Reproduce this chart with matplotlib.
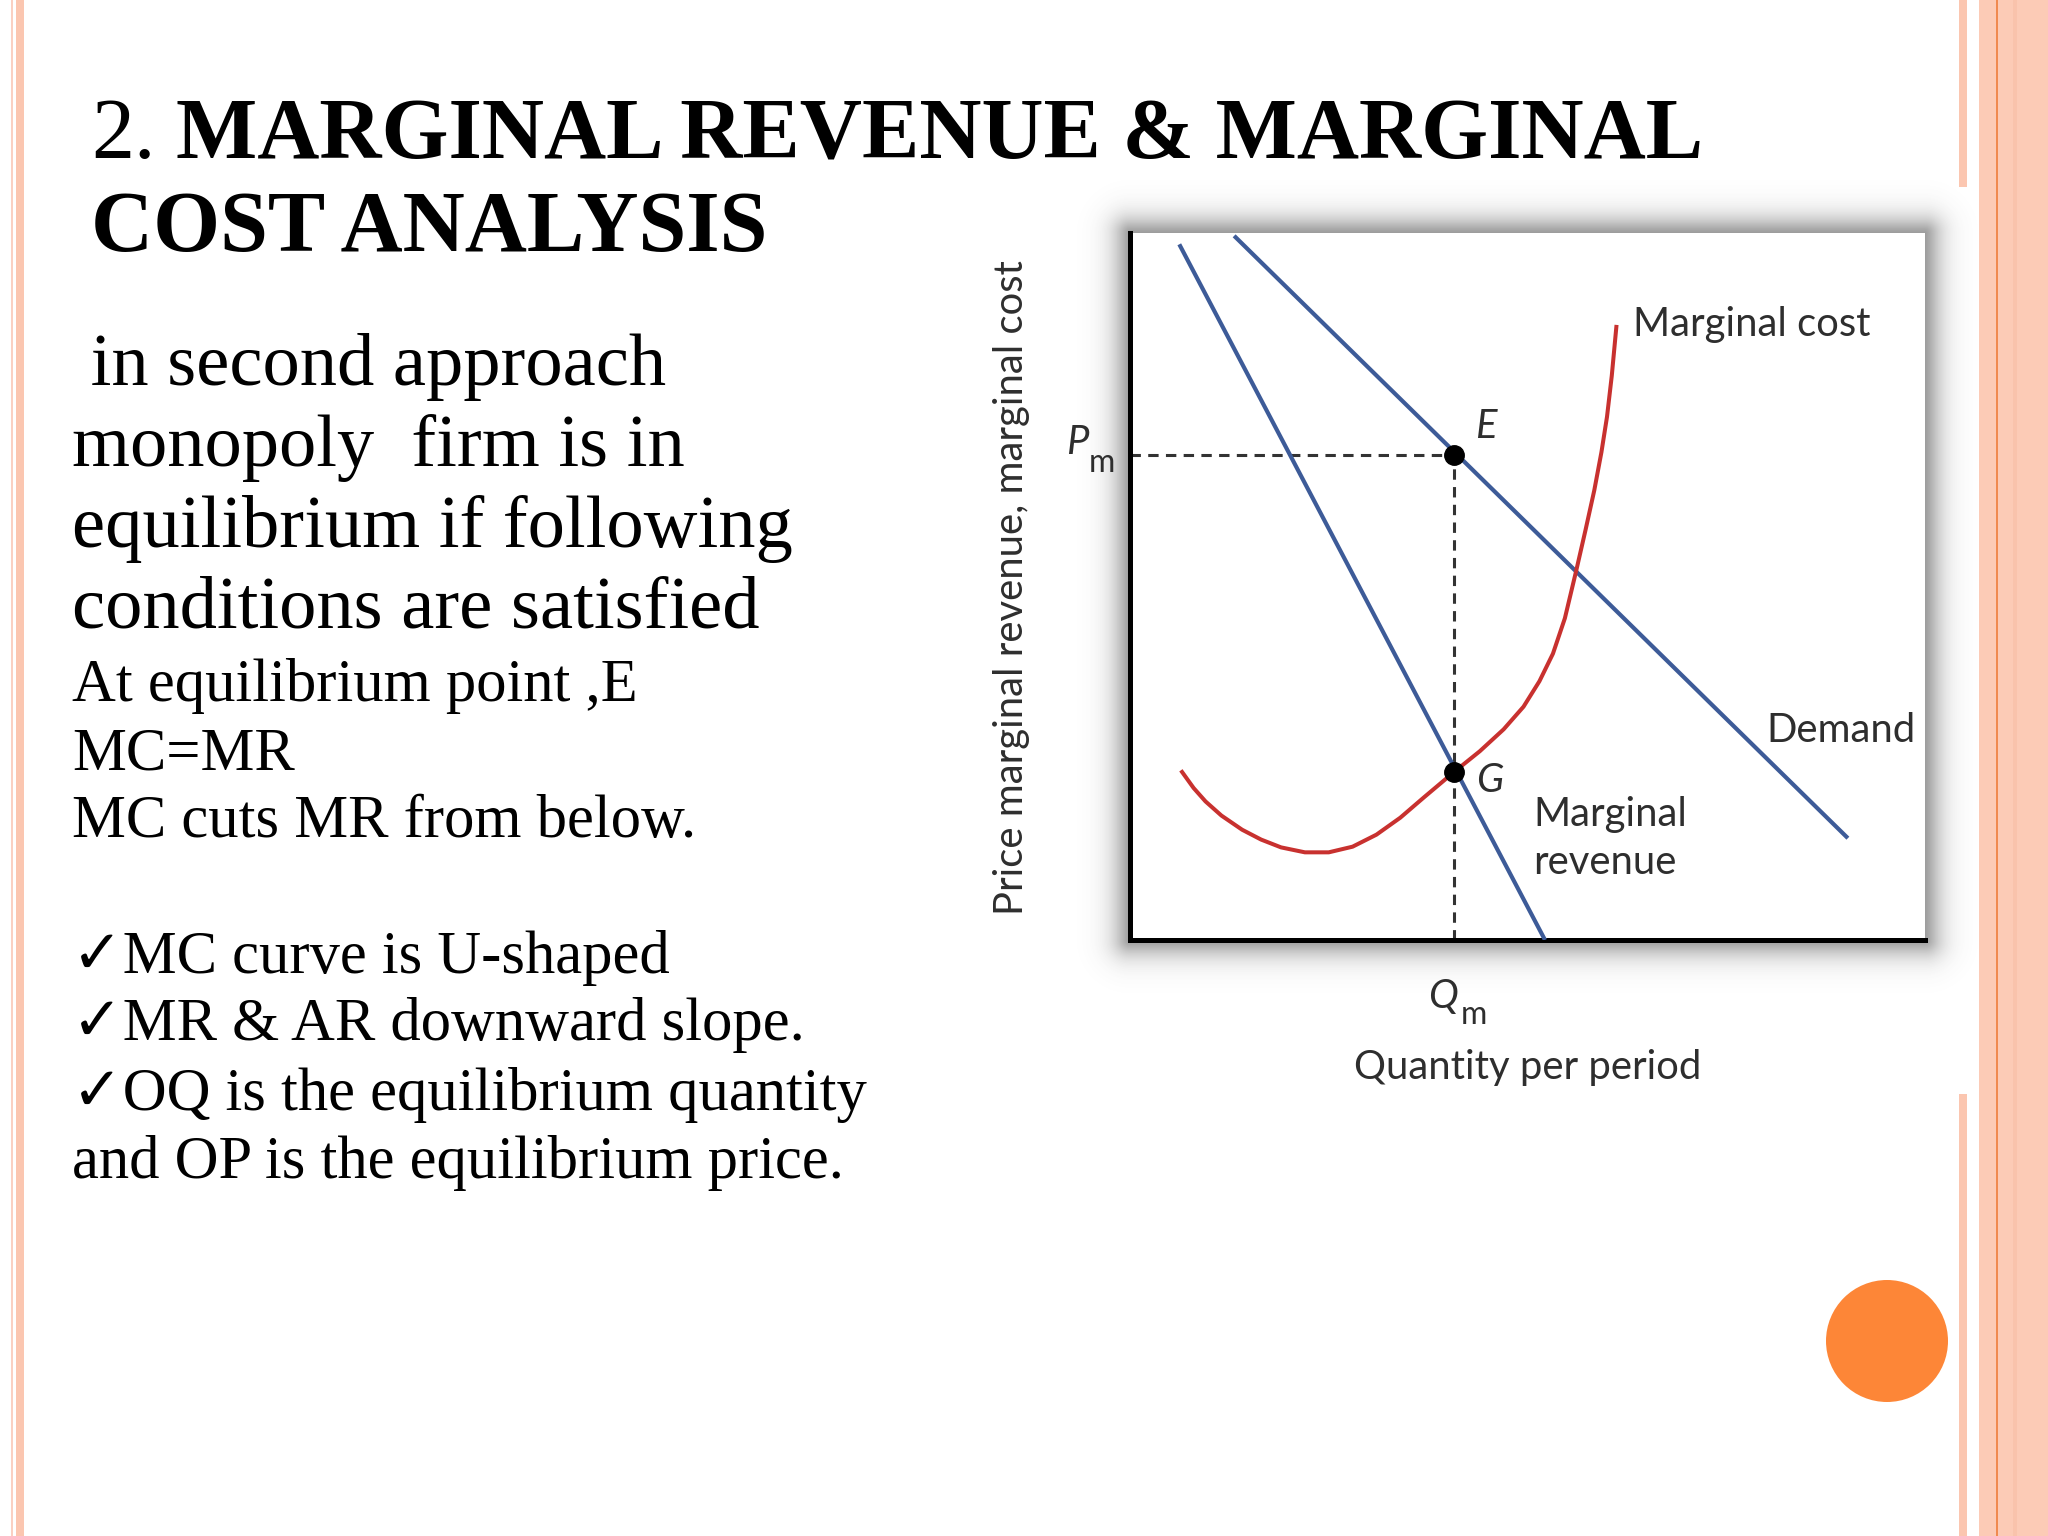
import numpy as np
import matplotlib
matplotlib.use("Agg")
import matplotlib.pyplot as plt
from matplotlib.patches import Rectangle, Circle

# ---------------- data (axis units 0..10) ----------------
demand_x = [1.31, 9.03]
demand_y = [9.96, 1.44]
mr_x = [0.62, 5.22]
mr_y = [9.84, 0.0]
mc_x = [0.64, 0.80, 0.95, 1.15, 1.41, 1.65, 1.90, 2.20, 2.50, 2.80, 3.10, 3.40, 3.70,
        4.08, 4.40, 4.70, 4.95, 5.15, 5.32, 5.47, 5.61, 5.73, 5.84, 5.93, 6.00, 6.06, 6.12]
mc_y = [2.40, 2.15, 1.96, 1.76, 1.56, 1.42, 1.31, 1.24, 1.24, 1.32, 1.49, 1.73, 2.02,
        2.38, 2.67, 2.98, 3.30, 3.66, 4.05, 4.55, 5.21, 5.80, 6.36, 6.90, 7.40, 7.98, 8.70]
eq_q = 4.08      # Qm
eq_p = 6.86      # Pm (point E on demand)
g_val = 2.38     # point G (MR = MC)

title_num = "2."
title_l1 = "MARGINAL REVENUE & MARGINAL"
title_l2 = "COST ANALYSIS"
big_lines = [" in second approach", "monopoly  firm is in",
             "equilibrium if following", "conditions are satisfied"]
small_lines = ["At equilibrium point ,E", "MC=MR", "MC cuts MR from below."]
check_lines = ["\u2713MC curve is U-shaped", "\u2713MR & AR downward slope.",
               "\u2713OQ is the equilibrium quantity", "and OP is the equilibrium price."]

# ---------------- figure ----------------
W, H = 2048, 1536
fig = plt.figure(figsize=(W / 100, H / 100), dpi=100)
fig.patch.set_facecolor("white")
bg = fig.add_axes([0, 0, 1, 1], zorder=0)
bg.set_xlim(0, W)
bg.set_ylim(H, 0)
bg.axis("off")
renderer = fig.canvas.get_renderer()

SERIF = ["Liberation Serif", "DejaVu Sans"]
SANS = ["Lato", "Open Sans", "DejaVu Sans"]
PINK = "#FBC6B0"

# decorative stripes
bg.add_patch(Rectangle((10.5, 0), 2.2, H, color="#FAD0C2", lw=0))
bg.add_patch(Rectangle((16, 0), 8, H, color=PINK, lw=0))
bg.add_patch(Rectangle((1959, 0), 8, 187, color=PINK, lw=0))
bg.add_patch(Rectangle((1959, 1094), 8, H - 1094, color=PINK, lw=0))
bg.add_patch(Rectangle((1979, 0), W - 1979, H, color="#FCCBB6", lw=0))
bg.add_patch(Rectangle((2013, 0), 4, H, color="#F9C3AC", lw=0))
bg.add_patch(Rectangle((1995.5, 0), 2, H, color="#F08A50", lw=0))
bg.add_patch(Circle((1887, 1341), 61, color="#FD8637", lw=0))


def fit_width(t, target, rotated=False):
    bb = t.get_window_extent(renderer)
    size = bb.height if rotated else bb.width
    return t.get_fontsize() * target / size


# ---------------- title ----------------
t_num = bg.text(91, 158, title_num, family=SERIF, fontsize=60, va="baseline", ha="left")
t1 = bg.text(176, 158, title_l1, family=SERIF, fontsize=60, weight="bold",
             va="baseline", ha="left")
fs_title = fit_width(t1, 1528)
t1.set_fontsize(fs_title)
t_num.set_fontsize(fs_title)
bg.text(91, 251, title_l2, family=SERIF, fontsize=fs_title, weight="bold",
        va="baseline", ha="left")

# ---------------- body text ----------------
big_base = [385, 466, 547, 628]
big_w = [670 - 72, 607, 709, 696]
ts = [bg.text(72, y, s, family=SERIF, fontsize=40, va="baseline", ha="left")
      for s, y in zip(big_lines, big_base)]
fs_big = float(np.median([fit_width(t, w) for t, w in zip(ts, big_w)]))
for t in ts:
    t.set_fontsize(fs_big)

small_base = [701, 769, 837, 973, 1040, 1110, 1178]
small_w = [581, 218, 624, 596, 722, 814, 799]
ts2 = [bg.text(72, y, s, family=SERIF, fontsize=40, va="baseline", ha="left")
       for s, y in zip(small_lines + check_lines, small_base)]
fs_small = float(np.median([fit_width(t, w) for t, w in zip(ts2, small_w)]))
for t in ts2:
    t.set_fontsize(fs_small)

# ---------------- chart frame shadow ----------------
L, R, T, B = 1130, 1925, 233, 940
pad = 60
xs = np.arange(L - pad, R + pad) + 0.5
ys = np.arange(T - pad, B + pad) + 0.5
X, Y = np.meshgrid(xs, ys)
dx = np.maximum(np.maximum(L - X, X - R), 0)
dy = np.maximum(np.maximum(T - Y, Y - B), 0)
d = np.hypot(dx, dy)
alpha = 0.55 * np.exp(-(d / 17.0) ** 1.4)
img = np.zeros(X.shape + (4,))
img[..., :3] = 0.3
img[..., 3] = alpha
bg.imshow(img, extent=(L - pad, R + pad, B + pad, T - pad), interpolation="bilinear",
          zorder=1, aspect="auto")
bg.set_xlim(0, W)
bg.set_ylim(H, 0)

# ---------------- chart axes ----------------
ax = fig.add_axes([L / W, (H - B) / H, (R - L) / W, (B - T) / H], zorder=2)
ax.set_xlim(0, 10)
ax.set_ylim(0, 10)
ax.set_facecolor("white")
for side in ["top", "right"]:
    ax.spines[side].set_visible(False)
for side in ["left", "bottom"]:
    ax.spines[side].set_linewidth(3.6)
    ax.spines[side].set_color("black")
    ax.spines[side].set_capstyle("projecting")
ax.set_xticks([])
ax.set_yticks([])

BLUE = "#3D5B98"
RED = "#C8312F"
ax.plot([0, eq_q], [eq_p, eq_p], color="#333333", lw=2.2, dashes=(3.4, 2.4),
        clip_on=False, zorder=2)
ax.plot([eq_q, eq_q], [0, eq_p], color="#333333", lw=2.2, dashes=(3.4, 2.4),
        clip_on=False, zorder=2)
ax.plot(demand_x, demand_y, color=BLUE, lw=3.0, solid_capstyle="butt", zorder=3)
ax.plot(mr_x, mr_y, color=BLUE, lw=3.0, solid_capstyle="butt", zorder=3)
ax.plot(mc_x, mc_y, color=RED, lw=2.9, solid_capstyle="butt", solid_joinstyle="round",
        zorder=3)
ax.plot([eq_q, eq_q], [eq_p, g_val], "o", color="black", ms=14, zorder=4)

TXT = "#2E2E2E"
lbl = ax.text(6.33, 8.71, "Marginal cost", family=SANS, fontsize=26, color=TXT,
              ha="left", va="center")
fs_lbl = fit_width(lbl, 237)
lbl.set_fontsize(fs_lbl)
ax.text(8.01, 2.96, "Demand", family=SANS, fontsize=fs_lbl, color=TXT, ha="left", va="center")
ax.text(5.07, 1.77, "Marginal", family=SANS, fontsize=fs_lbl, color=TXT, ha="left", va="center")
ax.text(5.07, 1.10, "revenue", family=SANS, fontsize=fs_lbl, color=TXT, ha="left", va="center")
ax.text(4.48, 7.26, "E", family=SANS, fontsize=fs_lbl, style="italic", color=TXT,
        ha="center", va="center")
ax.text(4.53, 2.25, "G", family=SANS, fontsize=fs_lbl, style="italic", color=TXT,
        ha="center", va="center")

# labels outside the frame (pixel coordinates on the slide)
bg.text(1077, 443, "P", family=SANS, fontsize=fs_lbl, style="italic", color=TXT,
        ha="center", va="center", zorder=3)
bg.text(1102, 463, "m", family=SANS, fontsize=fs_lbl * 0.8, color=TXT,
        ha="center", va="center", zorder=3)
bg.text(1443, 997, "Q", family=SANS, fontsize=fs_lbl, style="italic", color=TXT,
        ha="center", va="center", zorder=3)
bg.text(1474, 1015, "m", family=SANS, fontsize=fs_lbl * 0.8, color=TXT,
        ha="center", va="center", zorder=3)
bg.text(1528, 1068, "Quantity per period", family=SANS, fontsize=fs_lbl, color=TXT,
        ha="center", va="center", zorder=3)
bg.text(1012, 588, "Price marginal revenue, marginal cost", family=SANS, fontsize=fs_lbl,
        color=TXT, ha="center", va="center", rotation=90, zorder=3)

fig.savefig("out.png", dpi=100, facecolor="white")
